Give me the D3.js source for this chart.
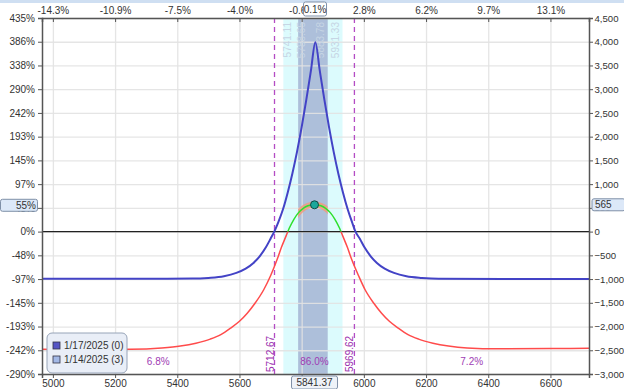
<!DOCTYPE html>
<html>
<head>
<meta charset="utf-8">
<script src="https://cdn.jsdelivr.net/npm/d3@7"></script>
<style>
  body { margin: 0; background: #fff; }
  svg { display: block; font-family: 'Liberation Sans', Arial, sans-serif; }
</style>
</head>
<body>
<svg id="chart"></svg>
<script>
// expiration curve 1/17/2025 (0 days)
const expPrices = [4965, 5200, 5450, 5500, 5550, 5590, 5620, 5645, 5665, 5685, 5700, 5712, 5725, 5740, 5755, 5770,
  5785, 5800, 5815, 5830, 5844, 5858, 5873, 5888, 5903, 5918, 5933, 5948, 5962, 5973, 5987, 6002, 6022, 6042,
  6067, 6097, 6137, 6187, 6240, 6450, 6724]
const expPnl = [-995, -995, -990, -975, -940, -870, -780, -660, -520, -330, -150, 0, 200, 470, 820, 1220,
  1680, 2200, 2780, 3400, 3990, 3400, 2780, 2200, 1680, 1220, 820, 470, 200, 0, -150, -330, -520, -660,
  -780, -870, -940, -975, -993, -1000, -1000]

// T+3 curve 1/14/2025 (3 days)
const t3Prices = [4965, 5100, 5250, 5350, 5410, 5460, 5506, 5540, 5571, 5600, 5625, 5650, 5678, 5700, 5721, 5735,
  5750, 5760, 5775, 5790, 5805, 5820, 5841, 5862, 5877, 5892, 5907, 5922, 5932, 5947, 5961, 5983, 6004, 6032,
  6057, 6082, 6111, 6142, 6176, 6222, 6272, 6332, 6432, 6600, 6724]
const t3Pnl = [-2480, -2482, -2478, -2450, -2410, -2350, -2265, -2170, -2035, -1890, -1720, -1510, -1225, -930, -590, -330,
  -90, 70, 260, 400, 490, 543, 565, 543, 490, 400, 260, 70, -90, -330, -590, -930, -1225, -1510,
  -1720, -1890, -2035, -2170, -2265, -2350, -2410, -2450, -2468, -2462, -2460]

const currentPrice = 5841.37
const currentPnl = 565
const breakevens = [5712.67, 5969.62]
const outerBand = [5741.11, 5931.33]
const innerBand = [5788.65, 5883.78]
const probLabels = ['6.8%', '86.0%', '7.2%']

const xTicks = [5000, 5200, 5400, 5600, 5800, 6000, 6200, 6400, 6600]
const topTickLabels = ['-14.3%', '-10.9%', '-7.5%', '-4.0%', '-0.6%', '2.8%', '6.2%', '9.7%', '13.1%']
const yTicks = [4500, 4000, 3500, 3000, 2500, 2000, 1500, 1000, 500, 0, -500, -1000, -1500, -2000, -2500, -3000]
const leftTickLabels = ['435%', '386%', '338%', '290%', '242%', '193%', '145%', '97%', '48%', '0%',
  '-48%', '-97%', '-145%', '-193%', '-242%', '-290%']
const legendLabels = ['1/17/2025 (0)', '1/14/2025 (3)']

const W = 624
const H = 389
const margin = { top: 18, right: 35, bottom: 15, left: 42 }
const width = W - margin.left - margin.right
const height = H - margin.top - margin.bottom

const svg = d3.select('#chart').attr('width', W).attr('height', H)

// thin blue strip on top of the window
svg.append('rect').attr('x', 0).attr('y', 0).attr('width', W).attr('height', 3).attr('fill', '#cfdff2')

const g = svg.append('g').attr('transform', `translate(${margin.left},${margin.top})`)

const x = d3.scaleLinear().domain([4965, 6724]).range([0, width])
const y = d3.scaleLinear().domain([-3000, 4500]).range([height, 0])

// shaded price ranges
g.append('rect')
  .attr('x', x(outerBand[0])).attr('y', 0)
  .attr('width', x(outerBand[1]) - x(outerBand[0])).attr('height', height)
  .attr('fill', '#dcfbfd')
g.append('rect')
  .attr('x', x(innerBand[0])).attr('y', 0)
  .attr('width', x(innerBand[1]) - x(innerBand[0])).attr('height', height)
  .attr('fill', '#adbfda')

// gridlines
g.append('g')
  .style('color', '#e2e2e2')
  .call(d3.axisBottom(x).tickValues(xTicks).tickSize(height).tickFormat(''))
  .call(g => g.select('.domain').remove())
  .selectAll('line').attr('stroke-width', 1.3).attr('stroke-opacity', 0.9)
g.append('g')
  .style('color', '#e2e2e2')
  .call(d3.axisLeft(y).tickValues(yTicks).tickSize(-width).tickFormat(''))
  .call(g => g.select('.domain').remove())
  .selectAll('line').attr('stroke-width', 1.3).attr('stroke-opacity', 0.9)

// band labels at the top
const bandLabels = [
  { v: outerBand[0], dx: 8 },
  { v: innerBand[0], dx: 7 },
  { v: innerBand[1], dx: -4 },
  { v: outerBand[1], dx: -4 }
]
bandLabels.forEach(b => {
  g.append('text')
    .attr('transform', `translate(${x(b.v) + b.dx},${4}) rotate(-90)`)
    .attr('text-anchor', 'end')
    .style('font-size', '10px')
    .style('fill', '#c6d5e4')
    .text(d3.format('.2f')(b.v))
})

// zero line
g.append('line')
  .attr('x1', 0).attr('x2', width)
  .attr('y1', y(0)).attr('y2', y(0))
  .attr('stroke', '#222').attr('stroke-width', 1.3)

// breakeven dashed lines and their labels
breakevens.forEach(b => {
  g.append('line')
    .attr('x1', x(b)).attr('x2', x(b))
    .attr('y1', 0).attr('y2', height)
    .attr('stroke', '#b44cc4').attr('stroke-width', 1.3)
    .attr('stroke-dasharray', '5,4')
  g.append('text')
    .attr('transform', `translate(${x(b) - 1},${height - 2}) rotate(-90)`)
    .style('font-size', '10px')
    .style('fill', '#9a2fae')
    .text(d3.format('.2f')(b))
})

// probability labels per region
const regions = [[x.domain()[0], breakevens[0]], breakevens, [breakevens[1], x.domain()[1]]]
regions.forEach((r, i) => {
  g.append('text')
    .attr('x', (x(r[0]) + x(r[1])) / 2)
    .attr('y', height - 9)
    .attr('text-anchor', 'middle')
    .style('font-size', '10px')
    .style('fill', '#a03cb4')
    .text(probLabels[i])
})

// clip paths for coloring the T+3 line
const defs = svg.append('defs')
defs.append('clipPath').attr('id', 'above')
  .append('rect').attr('x', 0).attr('y', 0).attr('width', width).attr('height', y(0))
defs.append('clipPath').attr('id', 'below')
  .append('rect').attr('x', 0).attr('y', y(0)).attr('width', width).attr('height', height - y(0))
defs.append('clipPath').attr('id', 'inner')
  .append('rect').attr('x', x(innerBand[0])).attr('y', 0)
  .attr('width', x(innerBand[1]) - x(innerBand[0])).attr('height', y(0))

const t3Data = t3Prices.map((p, i) => [p, t3Pnl[i]])
const expData = expPrices.map((p, i) => [p, expPnl[i]])

const line = d3.line()
  .x(d => x(d[0]))
  .y(d => y(d[1]))
  .curve(d3.curveMonotoneX)

// salmon highlight near the peak
g.append('path')
  .datum(t3Data)
  .attr('clip-path', 'url(#inner)')
  .attr('d', line)
  .attr('fill', 'none')
  .attr('stroke', '#f29a78')
  .attr('stroke-opacity', 0.8)
  .attr('stroke-width', 6)

g.append('path')
  .datum(t3Data)
  .attr('clip-path', 'url(#below)')
  .attr('d', line)
  .attr('fill', 'none')
  .attr('stroke', '#ff4b4b')
  .attr('stroke-width', 1.5)
g.append('path')
  .datum(t3Data)
  .attr('clip-path', 'url(#above)')
  .attr('d', line)
  .attr('fill', 'none')
  .attr('stroke', '#2ee02e')
  .attr('stroke-width', 1.5)

// expiration line
g.append('path')
  .datum(expData)
  .attr('d', line)
  .attr('fill', 'none')
  .attr('stroke', '#4343c6')
  .attr('stroke-width', 2)

// current price marker
g.append('circle')
  .attr('cx', x(currentPrice))
  .attr('cy', y(currentPnl))
  .attr('r', 4)
  .attr('fill', '#1ba89c')
  .attr('stroke', '#0d4a46')
  .attr('stroke-width', 1)

/* AXES */
const axisColor = '#555'
g.append('g')
  .style('color', axisColor)
  .style('font-size', '10px')
  .call(d3.axisLeft(y).tickValues(yTicks).tickSize(4).tickFormat((d, i) => leftTickLabels[i]))
  .call(g => g.selectAll('text').style('fill', '#333'))
g.append('g')
  .attr('transform', `translate(${width},0)`)
  .style('color', axisColor)
  .style('font-size', '9.6px')
  .call(d3.axisRight(y).tickValues(yTicks).tickSize(4).tickPadding(1.5).tickFormat(d3.format(',')))
  .call(g => g.selectAll('text').style('fill', '#333'))
g.append('g')
  .attr('transform', `translate(0,${height})`)
  .style('color', axisColor)
  .style('font-size', '10px')
  .call(d3.axisBottom(x).tickValues(xTicks).tickSize(4).tickPadding(2).tickFormat(d3.format('d')))
  .call(g => g.selectAll('text').style('fill', '#333'))
g.append('g')
  .style('color', axisColor)
  .style('font-size', '10px')
  .call(d3.axisTop(x).tickValues(xTicks).tickSize(-4).tickPadding(4).tickFormat((d, i) => topTickLabels[i]))
  .call(g => g.selectAll('text').style('fill', '#333'))
g.selectAll('.domain').attr('stroke-width', 1.5)

// value boxes on the axes
const valueBox = (bx, by, bw, bh, txt, anchor, tx, fill) => {
  svg.append('rect')
    .attr('x', bx).attr('y', by).attr('width', bw).attr('height', bh)
    .attr('rx', 2)
    .attr('fill', fill).attr('stroke', '#7f90a8')
  svg.append('text')
    .attr('x', tx).attr('y', by + bh / 2)
    .attr('dy', '0.35em')
    .attr('text-anchor', anchor)
    .style('font-size', '10px')
    .style('fill', '#333')
    .text(txt)
}
const cx = margin.left + x(currentPrice)
const cy = margin.top + y(currentPnl)
valueBox(0.5, cy - 5.5, 37, 12, d3.format('.0%')(currentPnl / 1034.5), 'end', 36, '#dce8f8')
valueBox(margin.left + width + 3, cy - 6, 33, 12, d3.format(',')(currentPnl), 'start', margin.left + width + 6, '#dce8f8')
valueBox(cx - 11, 2, 23, 14, d3.format('.1%')(currentPrice / 5836 - 1), 'middle', cx + 0.5, '#fff')
valueBox(cx - 23, H - 13, 46, 13, d3.format('.2f')(currentPrice), 'middle', cx, '#eef2f8')

// legend
const legend = g.append('g').attr('transform', `translate(5,${height - 41})`)
legend.append('rect')
  .attr('width', 80).attr('height', 40)
  .attr('rx', 5)
  .attr('fill', '#e9eef7')
  .attr('stroke', '#97a4b8')
const legendColors = ['#5555c4', '#a2b8e6']
legendLabels.forEach((l, i) => {
  legend.append('rect')
    .attr('x', 6).attr('y', 9 + i * 14)
    .attr('width', 7).attr('height', 7)
    .attr('fill', legendColors[i])
    .attr('stroke', '#334')
    .attr('stroke-width', 0.8)
  legend.append('text')
    .attr('x', 17).attr('y', 16 + i * 14)
    .style('font-size', '10px')
    .style('fill', '#333')
    .text(l)
})
</script>
</body>
</html>
